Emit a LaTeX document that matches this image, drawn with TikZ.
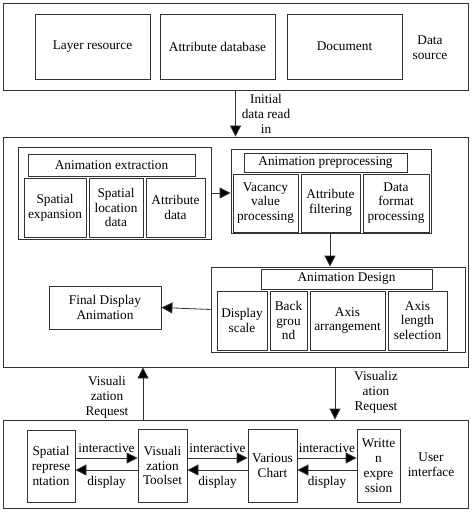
\documentclass[tikz,border=0pt]{standalone}
\usepackage{fontspec}
\setmainfont{Liberation Serif}
\usetikzlibrary{arrows.meta,calc}
\begin{document}
\begin{tikzpicture}[x=1pt,y=-1pt,
 box/.style={draw=black!80,line width=0.8pt,rectangle,inner sep=0pt,align=center,font=\fontsize{13.3}{14.8}\selectfont},
 lbl/.style={inner sep=0pt,align=center,font=\fontsize{13.3}{14.8}\selectfont},
 arr/.style={draw=black!80,line width=0.8pt,-{Triangle[length=11pt,width=11pt,fill=black]}}]
\useasboundingbox (0,0) rectangle (474,513);
% Data source
\node[box,minimum width=465pt,minimum height=87pt] (top) at (235.5,46.5) {};
\node[box,minimum width=115pt,minimum height=65pt] (layer) at (92.5,46.5) {Layer resource};
\node[box,minimum width=115pt,minimum height=65pt] (attdb) at (217.5,46.5) {Attribute database};
\node[box,minimum width=115pt,minimum height=65pt] (doc) at (344.5,46.5) {Document};
\node[lbl] (dsl) at (430,48) {Data\\source};
% Middle
\node[box,minimum width=465pt,minimum height=230pt] (mid) at (235.5,252) {};
\draw[arr] (top.south) -- (mid.north);
\node[lbl] (initl) at (266,114) {Initial\\data read\\in};
% Animation extraction
\node[box,minimum width=193pt,minimum height=92pt] (ae) at (114.5,193) {};
\node[box,minimum width=167pt,minimum height=22pt] (aet) at (111.5,165) {Animation extraction};
\node[box,minimum width=62pt,minimum height=59pt] (se) at (55,207.5) {Spatial\\expansion};
\node[box,minimum width=54pt,minimum height=59pt] (sld) at (116,207.5) {Spatial\\location\\data};
\node[box,minimum width=59pt,minimum height=59pt] (atd) at (175.5,207.5) {Attribute\\data};
% Animation preprocessing
\node[box,minimum width=200pt,minimum height=84pt] (ap) at (331,191) {};
\node[box,minimum width=163pt,minimum height=19pt] (apt) at (325.5,162.5) {Animation preprocessing};
\node[box,minimum width=65pt,minimum height=58pt] (vac) at (265.5,203) {Vacancy\\value\\processing};
\node[box,minimum width=59pt,minimum height=58pt] (af) at (330.5,203) {Attribute\\filtering};
\node[box,minimum width=66pt,minimum height=58pt] (dfp) at (396,203) {Data\\format\\processing};
\draw[arr] (ae.east) -- (ae.east -| ap.west);
% Animation design
\node[box,minimum width=254pt,minimum height=85pt] (ad) at (338,309.5) {};
\node[box,minimum width=171pt,minimum height=20pt] (adt) at (346.5,279) {Animation Design};
\node[box,minimum width=50pt,minimum height=59pt] (ds) at (242,320.5) {Display\\scale};
\node[box,minimum width=37pt,minimum height=59pt] (bg) at (288.5,320.5) {Back\\grou\\nd};
\node[box,minimum width=75pt,minimum height=59pt] (aa) at (347.5,320.5) {Axis\\arrangement};
\node[box,minimum width=59pt,minimum height=59pt] (al) at (417.5,320.5) {Axis\\length\\selection};
\draw[arr] ($(ap.south)+(-1,0)$) -- ($(ap.south |- ad.north)+(-1,0)$);
\node[box,minimum width=112pt,minimum height=43pt] (fda) at (105,307.5) {Final Display\\Animation};
\draw[arr] (ad.west) -- (fda.east);
% User interface
\node[box,minimum width=465pt,minimum height=88pt] (bot) at (235.5,464) {};
\draw[arr] (bot.north -| 143,0) -- (mid.south -| 143,0);
\draw[arr] (mid.south -| 335,0) -- (bot.north -| 335,0);
\node[lbl] (vr1) at (107,397) {Visuali\\zation\\Request};
\node[lbl] (vr2) at (376,392) {Visualiz\\ation\\Request};
\node[box,minimum width=48pt,minimum height=72pt] (sr) at (51,466) {Spatial\\represe\\ntation};
\node[box,minimum width=49pt,minimum height=73pt] (vt) at (162.5,465.5) {Visuali\\zation\\Toolset};
\node[box,minimum width=49pt,minimum height=73pt] (vc) at (272.5,465.5) {Various\\Chart};
\node[box,minimum width=43pt,minimum height=73pt] (we) at (378.5,465.5) {Writte\\n\\expre\\ssion};
\node[lbl] (uil) at (431,465) {User\\interface};
\foreach \a/\b in {sr/vt,vt/vc,vc/we}{
  \draw[arr] (\a.east |- 0,458) -- node[lbl,above=5pt]{interactive} (\b.west |- 0,458);
  \draw[arr] (\b.west |- 0,470) -- node[lbl,below=6pt]{display} (\a.east |- 0,470);
}
\end{tikzpicture}
\end{document}
